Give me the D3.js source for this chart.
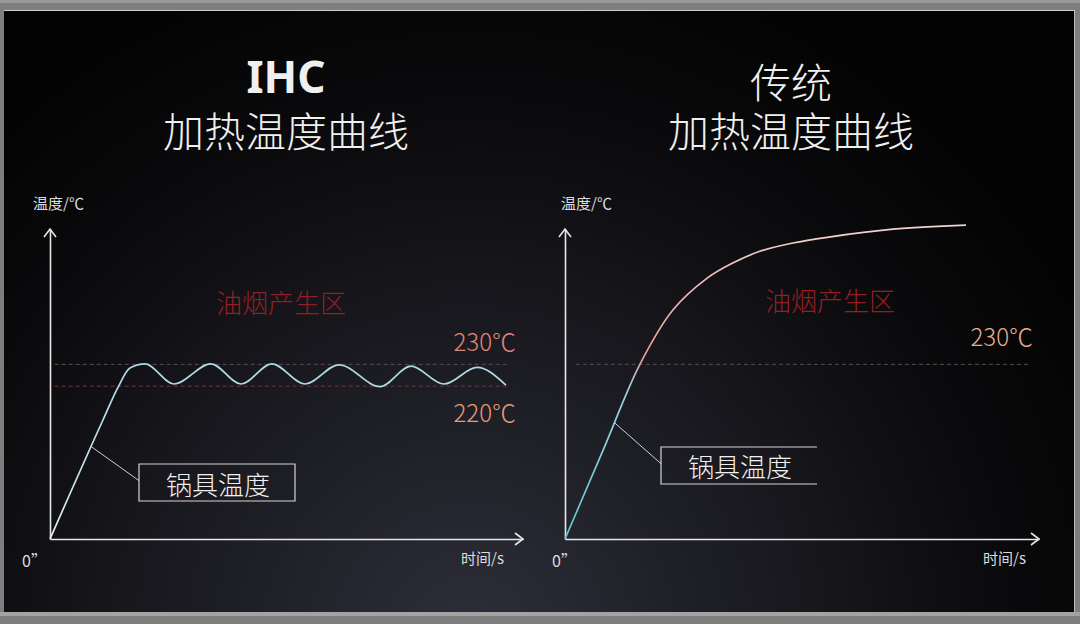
<!DOCTYPE html>
<html>
<head>
<meta charset="utf-8">
<script src="https://cdn.jsdelivr.net/npm/d3@7"></script>
<style>
  body { margin: 0; background: #7d7d7d; }
  svg { display: block; }
  text { font-family: "Noto Sans CJK SC", "Noto Sans", sans-serif; }
</style>
</head>
<body>
<svg></svg>
<script>
// IHC: fast rise, then oscillates between 220 and 230
const ihcTime = [0, 11.2, 14.4, 16.9, 20.1, 26.2, 34.0, 40.4, 46.9, 53.9, 61.1, 69.8, 76.3, 83.3, 90.3, 96.4]
const ihcTemp = [150, 204.5, 219.6, 228.3, 230.2, 221, 230.2, 221, 230.2, 221, 229.8, 219.8, 229.2, 221, 228.6, 220.5]
const ihcLimits = [230, 220]

// traditional: keeps climbing past 230
const oldTime = [0, 8, 15.8, 22.8, 30, 35.4, 41.1, 48.1, 55.3, 69.2, 84.6]
const oldTemp = [150, 190.5, 230, 255, 269.5, 276.4, 281.8, 285.6, 288.2, 291.9, 293.8]
const oldLimits = [230]

const titleTop = ["IHC", "传统"]
const titleSub = "加热温度曲线"
const zoneLabel = "油烟产生区"
const curveLabel = "锅具温度"
const yLabel = "温度/℃"
const xLabel = "时间/s"
const originLabel = "0”"

const timeDomain = [0, 100]
const tempDomain = [150, 292]

const W = 1080, H = 624
const plotBottom = 539, plotTop = 229

const svg = d3.select("svg")
  .attr("width", W)
  .attr("height", H)

const defs = svg.append("defs")

const bg = defs.append("radialGradient")
  .attr("id", "bg")
  .attr("gradientUnits", "userSpaceOnUse")
  .attr("cx", 470).attr("cy", 640).attr("r", 700)
bg.append("stop").attr("offset", 0).attr("stop-color", "#2d2e39")
bg.append("stop").attr("offset", 0.45).attr("stop-color", "#19191f")
bg.append("stop").attr("offset", 0.8).attr("stop-color", "#09090b")
bg.append("stop").attr("offset", 1).attr("stop-color", "#030303")

const y = d3.scaleLinear()
  .domain(tempDomain)
  .range([plotBottom, plotTop])

// curve colours, bottom to top
const gradStops = {
  ihc: [[0, "#dcedf0"], [0.45, "#b0dbe4"], [1, "#9ed0dc"]],
  old: [[0, "#63c3d3"], [0.45, "#9ad5df"], [0.58, "#e99a9c"], [0.8, "#f0b8b6"], [1, "#f4d3d0"]]
}
Object.keys(gradStops).forEach((k) => {
  const g = defs.append("linearGradient")
    .attr("id", "grad-" + k)
    .attr("gradientUnits", "userSpaceOnUse")
    .attr("x1", 0).attr("x2", 0)
    .attr("y1", plotBottom).attr("y2", 222)
  gradStops[k].forEach((s) => {
    g.append("stop").attr("offset", s[0]).attr("stop-color", s[1])
  })
})

// frame
svg.append("rect").attr("width", W).attr("height", H).attr("fill", "#7e7e7e")
svg.append("rect").attr("width", W).attr("height", 3).attr("fill", "#9a9a9a")
svg.append("rect").attr("x", 4).attr("y", 10).attr("width", 1071).attr("height", 602).attr("fill", "url(#bg)")
svg.append("line").attr("x1", 4).attr("x2", 1075).attr("y1", 10.5).attr("y2", 10.5).attr("stroke", "#cfcfcf")
svg.append("line").attr("x1", 1074.5).attr("x2", 1074.5).attr("y1", 10).attr("y2", 612).attr("stroke", "#bdbdbd")
svg.append("rect").attr("y", 612).attr("width", W).attr("height", 4).attr("fill", "#a3a3a3")

const panels = [
  {
    key: "ihc", time: ihcTime, temp: ihcTemp, limits: ihcLimits, curve: d3.curveMonotoneX,
    xRange: [50, 523], titleX: 286, topBold: true, topY: 93,
    limitDash: [1, 96.5], limitLabelX: 516, limitLabelDy: [-13, 36],
    limitColor: ["#e0877a", "#e79a73"], lineColor: ["#5f4b50", "#74363c"],
    zoneX: 281, zoneY: 313,
    leaderT: 8.7, box: [139, 464, 156, 37], boxOpen: false,
    labelX: 218, labelY: 495, xLabelX: 461, yLabelX: 33, originX: 22
  },
  {
    key: "old", time: oldTime, temp: oldTemp, limits: oldLimits, curve: d3.curveCatmullRom.alpha(0.5),
    xRange: [565, 1039], titleX: 791, topBold: false, topY: 98,
    limitDash: [2.3, 98.3], limitLabelX: 1033, limitLabelDy: [-18],
    limitColor: ["#e8ad8e"], lineColor: ["#5a4b4f"],
    zoneX: 830, zoneY: 311,
    leaderT: 10.5, box: [661, 447, 156, 37], boxOpen: true,
    labelX: 740, labelY: 477, xLabelX: 983, yLabelX: 561, originX: 552
  }
]

panels.forEach((p, i) => {
  const x = d3.scaleLinear()
    .domain(timeDomain)
    .range(p.xRange)

  const data = p.time.map((t, j) => ({ t: t, v: p.temp[j] }))

  // two-line title in one text element
  const title = svg.append("text")
    .attr("text-anchor", "middle")
    .attr("fill", "#f0f0f0")
  title.append("tspan")
    .attr("x", p.titleX)
    .attr("y", p.topY)
    .style("font-family", p.topBold ? "'Noto Sans', sans-serif" : null)
    .style("font-weight", p.topBold ? 700 : 300)
    .style("font-size", p.topBold ? "44px" : "41px")
    .text(titleTop[i])
  title.append("tspan")
    .attr("x", p.titleX)
    .attr("y", 147)
    .style("font-weight", 300)
    .style("font-size", "41px")
    .text(titleSub)

  // limit lines
  const lim = svg.append("g").attr("class", "limits")
  lim.selectAll("line")
    .data(p.limits)
    .enter()
    .append("line")
    .attr("x1", x(p.limitDash[0]))
    .attr("x2", x(p.limitDash[1]))
    .attr("y1", (d) => y(d))
    .attr("y2", (d) => y(d))
    .attr("stroke", (d, j) => p.lineColor[j])
    .attr("stroke-width", 1)
    .attr("stroke-dasharray", "4,3")

  lim.selectAll("text")
    .data(p.limits)
    .enter()
    .append("text")
    .attr("x", p.limitLabelX)
    .attr("y", (d, j) => y(d) + p.limitLabelDy[j])
    .attr("text-anchor", "end")
    .attr("fill", (d, j) => p.limitColor[j])
    .style("font-weight", 300)
    .style("font-size", "24px")
    .text((d) => d + "℃")

  // zone label
  svg.append("text")
    .attr("x", p.zoneX)
    .attr("y", p.zoneY)
    .attr("text-anchor", "middle")
    .attr("fill", "#921f23")
    .style("font-size", "26px")
    .style("font-weight", 300)
    .text(zoneLabel)

  // axes
  svg.append("g")
    .attr("transform", `translate(0,${y(tempDomain[0])})`)
    .call(d3.axisBottom(x).tickValues([]).tickSizeOuter(0))
  svg.append("g")
    .attr("transform", `translate(${x(timeDomain[0])},0)`)
    .call(d3.axisLeft(y).tickValues([]).tickSizeOuter(0))
  svg.selectAll(".domain")
    .attr("stroke", "#e8e8e8")
    .attr("stroke-width", 1.6)

  svg.append("path")
    .attr("d", "M-8,-6L0,0L-8,6")
    .attr("transform", `translate(${x(timeDomain[1])},${y(tempDomain[0])})`)
    .attr("fill", "none")
    .attr("stroke", "#e8e8e8")
    .attr("stroke-width", 1.6)
  svg.append("path")
    .attr("d", "M-6,8L0,0L6,8")
    .attr("transform", `translate(${x(timeDomain[0])},${y(tempDomain[1])})`)
    .attr("fill", "none")
    .attr("stroke", "#e8e8e8")
    .attr("stroke-width", 1.6)

  // axis labels
  const small = svg.append("g")
    .attr("fill", "#dcdcdc")
    .style("font-family", "'Noto Serif CJK SC', 'Noto Sans CJK SC', serif")
    .style("font-size", "15px")
  small.append("text").attr("x", p.yLabelX).attr("y", 209).text(yLabel)
  small.append("text").attr("x", p.xLabelX).attr("y", 564).text(xLabel)
  small.append("text").attr("x", p.originX).attr("y", 567).style("font-size", "16px").text(originLabel)

  // temperature curve
  const line = d3.line()
    .x((d) => x(d.t))
    .y((d) => y(d.v))
    .curve(p.curve)

  svg.append("path")
    .datum(data)
    .attr("d", line)
    .attr("fill", "none")
    .attr("stroke", `url(#grad-${p.key})`)
    .attr("stroke-width", 1.7)

  // callout
  const k = d3.bisector((d) => d.t).right(data, p.leaderT)
  const a = data[k - 1], b = data[k]
  const leaderV = a.v + (b.v - a.v) * (p.leaderT - a.t) / (b.t - a.t)
  const bx = p.box[0], by = p.box[1], bw = p.box[2], bh = p.box[3]

  svg.append("line")
    .attr("x1", x(p.leaderT))
    .attr("y1", y(leaderV))
    .attr("x2", bx)
    .attr("y2", by + bh * 0.45)
    .attr("stroke", "#cfcfcf")
    .attr("stroke-width", 1)

  svg.append("path")
    .attr("d", p.boxOpen
      ? `M${bx + bw},${by}H${bx}V${by + bh}H${bx + bw}`
      : `M${bx},${by}H${bx + bw}V${by + bh}H${bx}Z`)
    .attr("fill", "none")
    .attr("stroke", "#d6d6d6")
    .attr("stroke-width", 1.2)

  svg.append("text")
    .attr("x", p.labelX)
    .attr("y", p.labelY)
    .attr("text-anchor", "middle")
    .attr("fill", "#f0f0f0")
    .style("font-weight", 300)
    .style("font-size", "26px")
    .text(curveLabel)
})
</script>
</body>
</html>
